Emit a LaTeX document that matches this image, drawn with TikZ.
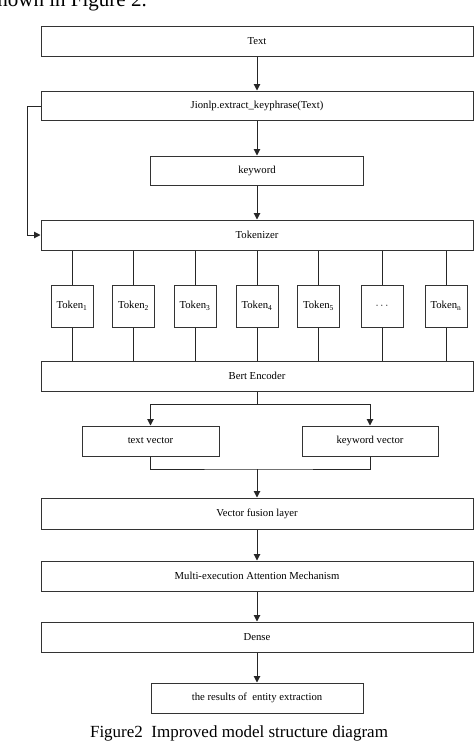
\documentclass[tikz,border=0pt]{standalone}
\usepackage{fontspec}
\setmainfont{Liberation Serif}
\usetikzlibrary{arrows.meta}
\begin{document}
\begin{tikzpicture}[x=1pt,y=-1pt,
  box/.style={draw=black!80,line width=1pt,inner sep=0pt,font=\fontsize{10.7}{12}\selectfont,minimum height=30pt},
  wide/.style={box,minimum width=432pt},
  tok/.style={box,minimum width=42pt,minimum height=42pt},
  ln/.style={draw=black!85,line width=1pt},
  arr/.style={ln,-{Triangle[length=6.5pt,width=6.5pt]}}]
\useasboundingbox (0,0) rectangle (474,744);
\fill[white] (0,0) rectangle (474,744);
\begin{scope}
\clip (0,0) rectangle (474,744);
\node[anchor=base east,inner sep=0pt,font=\fontsize{21}{24}\selectfont] (intro) at (147,6) {shown in Figure 2.};
\end{scope}
\node[wide] (text) at (257,41) {Text};
\node[wide,minimum height=29pt] (jion) at (257,105.5) {Jionlp.extract\_keyphrase(Text)};
\node[box,minimum width=213pt,minimum height=29pt] (kw) at (257,170.5) {keyword};
\node[wide] (tokz) at (257,235) {Tokenizer};
\node[tok] (t1) at (72,306) {Token\textsubscript{1}};
\node[tok] (t2) at (133.5,306) {Token\textsubscript{2}};
\node[tok] (t3) at (195,306) {Token\textsubscript{3}};
\node[tok] (t4) at (257,306) {Token\textsubscript{4}};
\node[tok] (t5) at (318.5,306) {Token\textsubscript{5}};
\node[tok] (t6) at (382,306) {$\cdots$};
\node[tok] (t7) at (446,306) {Token\textsubscript{n}};
\node[wide] (bert) at (257,376) {Bert Encoder};
\node[box,minimum width=137pt] (tv) at (150.5,441) {text vector};
\node[box,minimum width=136pt] (kv) at (370,441) {keyword vector};
\node[wide,minimum height=31pt] (fus) at (257,513.5) {Vector fusion layer};
\node[wide] (multi) at (257,576) {Multi-execution Attention Mechanism};
\node[wide] (dense) at (257,637) {Dense};
\node[box,minimum width=212pt] (res) at (257,698) {the results of\ \ entity extraction};
\node[anchor=base,inner sep=0pt,font=\fontsize{17}{20}\selectfont] (cap) at (239,737) {Figure2\ \ Improved model structure diagram};
% connectors
\draw[arr] (text) -- (jion);
\draw[arr] (jion) -- (kw);
\draw[arr] (kw) -- (tokz);
\coordinate (fb1) at (27,106);
\coordinate (fb2) at (27,235);
\draw[arr] (jion.west |- fb1) -- (fb1) -- (fb2) -- (tokz.west);
\foreach \t in {t1,t2,t3,t4,t5,t6,t7}{
  \draw[ln] (\t.north) -- (\t.north |- tokz.south);
  \draw[ln] (\t.south) -- (\t.south |- bert.north);
}
\coordinate (br) at (257,404);
\draw[ln] (bert.south) -- (br);
\draw[arr] (br) -| (tv.north);
\draw[arr] (br) -| (kv.north);
\coordinate (mg) at (257,469);
\draw[ln] (tv.south) |- (mg) -| (kv.south);
\draw[arr] (mg) -- (fus.north);
\draw[arr] (fus) -- (multi);
\draw[arr] (multi) -- (dense);
\draw[arr] (dense) -- (res);
\end{tikzpicture}
\end{document}
